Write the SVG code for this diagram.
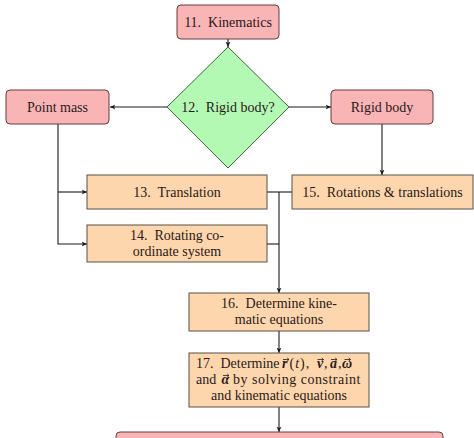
<svg xmlns="http://www.w3.org/2000/svg" width="474" height="438" viewBox="0 0 474 438">
<defs>
<style>
.pink{fill:#f9b4b6;stroke:#6b3b3b;stroke-width:1}
.green{fill:#b3f9b3;stroke:#3d6b3d;stroke-width:1}
.peach{fill:#fdd6ad;stroke:#5a5045;stroke-width:1}
.t{font-family:"Liberation Serif","DejaVu Serif",serif;font-size:14px;fill:#2a1a1a;text-anchor:middle;white-space:pre}
.s{text-anchor:start}
.v{font-weight:bold;font-style:italic}
.c{fill:none;stroke:#1a1a1a;stroke-width:1.1}
.vec{fill:none;stroke:#2a1a1a;stroke-width:0.8}
</style>
<marker id="ah" viewBox="0 0 8 8" refX="7" refY="4" markerWidth="6" markerHeight="6" orient="auto" markerUnits="userSpaceOnUse">
<path d="M0,0.8 L7,4 L0,7.2 L1.6,4 Z" fill="#1a1a1a"/>
</marker>
<path id="va" d="M-3,0 H3 M1.2,-1.5 L3,0 L1.2,1.5"/>
</defs>
<rect width="474" height="438" fill="#ffffff"/>
<g id="connectors">
<path class="c" d="M228,39 V47" marker-end="url(#ah)"/>
<path class="c" d="M167,107 H110" marker-end="url(#ah)"/>
<path class="c" d="M289,107 H331" marker-end="url(#ah)"/>
<path class="c" d="M58,124 V244 H87" marker-end="url(#ah)"/>
<path class="c" d="M58,192 H87" marker-end="url(#ah)"/>
<path class="c" d="M382,124 V175" marker-end="url(#ah)"/>
<path class="c" d="M267,192 H292"/>
<path class="c" d="M267,244 H279"/>
<path class="c" d="M279,192 V293" marker-end="url(#ah)"/>
<path class="c" d="M279,331 V353" marker-end="url(#ah)"/>
<path class="c" d="M279,407 V432" marker-end="url(#ah)"/>
</g>
<g id="n11">
<rect class="pink" x="177" y="5" width="102" height="34" rx="4"/>
<text class="t" x="228" y="27">11.  Kinematics</text>
</g>
<g id="n12">
<polygon class="green" points="228,47 289,107 228,168 167,107"/>
<text class="t" x="228" y="112">12.  Rigid body?</text>
</g>
<g id="pointmass">
<rect class="pink" x="6" y="90" width="103" height="34" rx="4"/>
<text class="t" x="57.5" y="112">Point mass</text>
</g>
<g id="rigidbody">
<rect class="pink" x="331" y="90" width="102" height="34" rx="4"/>
<text class="t" x="382" y="112">Rigid body</text>
</g>
<g id="n13">
<rect class="peach" x="87" y="175" width="180" height="34"/>
<text class="t" x="177" y="197">13.  Translation</text>
</g>
<g id="n14">
<rect class="peach" x="87" y="225" width="180" height="37"/>
<text class="t" x="177" y="240">14.  Rotating co-</text>
<text class="t" x="177" y="256">ordinate system</text>
</g>
<g id="n15">
<rect class="peach" x="292" y="175" width="181" height="34"/>
<text class="t" x="382.5" y="197">15.  Rotations &amp; translations</text>
</g>
<g id="n16">
<rect class="peach" x="189" y="293" width="180" height="38"/>
<text class="t" x="279" y="308">16.  Determine kine-</text>
<text class="t" x="279" y="324">matic equations</text>
</g>
<g id="n17">
<rect class="peach" x="189" y="353" width="180" height="54"/>
<text class="t s" y="368"><tspan x="196">17.  Determine</tspan><tspan x="282" class="v">r</tspan><tspan x="289.5" letter-spacing="1">(<tspan font-style="italic">t</tspan>),</tspan><tspan x="317" class="v">v</tspan><tspan x="324">,</tspan><tspan x="330" class="v">a</tspan><tspan x="338">,</tspan><tspan x="342" class="v">ω</tspan></text>
<text class="t s" y="384"><tspan x="196">and</tspan><tspan x="221.5" class="v">α</tspan><tspan x="233" letter-spacing="0.5">by solving constraint</tspan></text>
<text class="t" x="279" y="400">and kinematic equations</text>
<g class="vec">
<use href="#va" x="286" y="359.5"/>
<use href="#va" x="320.5" y="359.5"/>
<use href="#va" x="334" y="359.5"/>
<use href="#va" x="347.5" y="359.5"/>
<use href="#va" x="226" y="375.5"/>
</g>
</g>
<g id="n18">
<rect class="pink" x="116" y="432" width="327" height="20" rx="4"/>
</g>
</svg>
